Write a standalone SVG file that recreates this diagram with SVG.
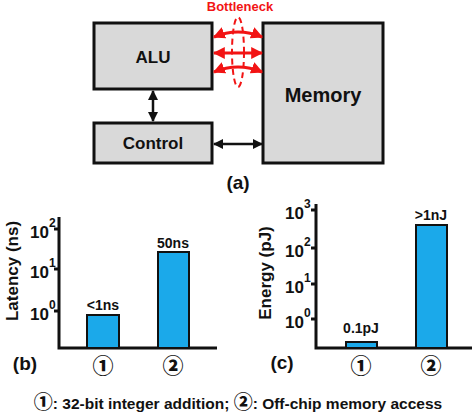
<svg xmlns="http://www.w3.org/2000/svg" width="474" height="417" viewBox="0 0 474 417">
<defs>
<style>
text{font-family:"Liberation Sans",Arial,"Noto Sans CJK SC",sans-serif;font-weight:bold;fill:#111}
.box{fill:#d9d9d9;stroke:#111;stroke-width:3}
.bar{fill:#1ba9ea;stroke:#111;stroke-width:2}
.axis{fill:none;stroke:#111;stroke-width:3}
.tick{stroke:#111;stroke-width:3}
.red{fill:none;stroke:#f21414;stroke-width:3}
.blk{fill:none;stroke:#111;stroke-width:2.5}
.circ{font-family:"Noto Sans CJK SC","DejaVu Sans",sans-serif;font-weight:900}
</style>
<marker id="ar" viewBox="0 0 10 10" refX="9" refY="5" markerWidth="4" markerHeight="4" orient="auto-start-reverse"><path d="M0,0L10,5L0,10z" fill="#f21414"/></marker>
<marker id="ab" viewBox="0 0 10 10" refX="9" refY="5" markerWidth="4" markerHeight="4" orient="auto-start-reverse"><path d="M0,0L10,5L0,10z" fill="#111"/></marker>
</defs>

<g id="alu"><rect class="box" x="94" y="23" width="118" height="66"/><text x="153" y="63" font-size="17" text-anchor="middle">ALU</text></g>
<g id="control"><rect class="box" x="94" y="123" width="118" height="40"/><text x="153" y="149" font-size="17" text-anchor="middle">Control</text></g>
<g id="memory"><rect class="box" x="263" y="23" width="120" height="140"/><text x="323" y="102" font-size="20" text-anchor="middle">Memory</text></g>

<g id="connectors">
<path class="red" d="M214,37 Q238,27 262,37" marker-start="url(#ar)" marker-end="url(#ar)"/>
<path class="red" d="M214,53 L262,53" marker-start="url(#ar)" marker-end="url(#ar)"/>
<path class="red" d="M214,72 Q238,62 262,72" marker-start="url(#ar)" marker-end="url(#ar)"/>
<line class="blk" x1="153" y1="91" x2="153" y2="121" marker-start="url(#ab)" marker-end="url(#ab)"/>
<line class="blk" x1="214" y1="144" x2="262" y2="144" marker-start="url(#ab)" marker-end="url(#ab)"/>
</g>
<g id="bottleneck">
<ellipse cx="238" cy="52" rx="6" ry="35" fill="none" stroke="#f21414" stroke-width="2" stroke-dasharray="6,4"/>
<text x="240" y="11" font-size="13" text-anchor="middle" style="fill:#f21414">Bottleneck</text>
</g>
<text x="238" y="189" font-size="19" text-anchor="middle">(a)</text>

<g id="chart-b">
<path class="axis" d="M59,217 V348 H217"/>
<line class="tick" x1="54" y1="229" x2="59" y2="229"/>
<line class="tick" x1="54" y1="269" x2="59" y2="269"/>
<line class="tick" x1="54" y1="311" x2="59" y2="311"/>
<text x="49" y="238" font-size="17" text-anchor="end">10</text><text x="49" y="227" font-size="12">2</text>
<text x="49" y="278" font-size="17" text-anchor="end">10</text><text x="49" y="267" font-size="12">1</text>
<text x="49" y="320" font-size="17" text-anchor="end">10</text><text x="49" y="309" font-size="12">0</text>
<text transform="translate(18,271) rotate(-90)" font-size="17" text-anchor="middle">Latency (ns)</text>
<rect class="bar" x="87" y="315" width="32" height="33"/>
<rect class="bar" x="158" y="252" width="31" height="96"/>
<text x="103" y="310" font-size="14" text-anchor="middle">&lt;1ns</text>
<text x="173" y="248" font-size="14" text-anchor="middle">50ns</text>
<text class="circ" x="103" y="373" font-size="21" text-anchor="middle">①</text>
<text class="circ" x="173" y="373" font-size="21" text-anchor="middle">②</text>
<text x="25" y="370" font-size="19" text-anchor="middle">(b)</text>
</g>

<g id="chart-c">
<path class="axis" d="M316,204 V348 H472"/>
<line class="tick" x1="311" y1="210" x2="316" y2="210"/>
<line class="tick" x1="311" y1="248" x2="316" y2="248"/>
<line class="tick" x1="311" y1="284" x2="316" y2="284"/>
<line class="tick" x1="311" y1="319" x2="316" y2="319"/>
<text x="304" y="219" font-size="17" text-anchor="end">10</text><text x="304" y="208" font-size="12">3</text>
<text x="304" y="257" font-size="17" text-anchor="end">10</text><text x="304" y="246" font-size="12">2</text>
<text x="304" y="293" font-size="17" text-anchor="end">10</text><text x="304" y="282" font-size="12">1</text>
<text x="304" y="328" font-size="17" text-anchor="end">10</text><text x="304" y="317" font-size="12">0</text>
<text transform="translate(271,273) rotate(-90)" font-size="17" text-anchor="middle">Energy (pJ)</text>
<rect class="bar" x="346" y="342" width="31" height="6"/>
<rect class="bar" x="416" y="225" width="31" height="123"/>
<text x="361" y="333" font-size="14" text-anchor="middle">0.1pJ</text>
<text x="431" y="220" font-size="14" text-anchor="middle">&gt;1nJ</text>
<text class="circ" x="361" y="373" font-size="21" text-anchor="middle">①</text>
<text class="circ" x="431" y="373" font-size="21" text-anchor="middle">②</text>
<text x="282" y="369" font-size="19" text-anchor="middle">(c)</text>
</g>

<text x="238" y="409" font-size="15.5" text-anchor="middle"><tspan class="circ" font-size="19">①</tspan>: 32-bit integer addition; <tspan class="circ" font-size="19">②</tspan>: Off-chip memory access</text>
</svg>
